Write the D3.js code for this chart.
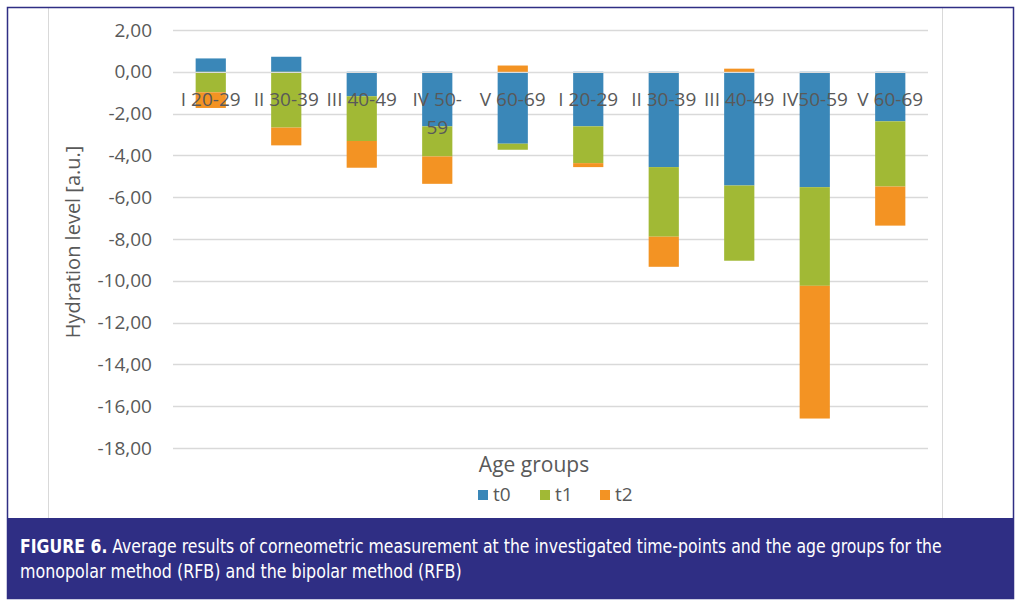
<!DOCTYPE html>
<html>
<head>
<meta charset="utf-8">
<script src="https://cdn.jsdelivr.net/npm/d3@7"></script>
<style>
  html, body { margin: 0; padding: 0; background: #ffffff; }
  svg { display: block; }
</style>
</head>
<body>
<svg id="chart" width="1024" height="610"></svg>
<script>
// ---- data ----
const categories = ["I 20-29","II 30-39","III 40-49","IV 50-59","V 60-69","I 20-29","II 30-39","III 40-49","IV50-59","V 60-69"];
const categoryLines = [["I 20-29"],["II 30-39"],["III 40-49"],["IV 50-","59"],["V 60-69"],["I 20-29"],["II 30-39"],["III 40-49"],["IV50-59"],["V 60-69"]];
const seriesNames = ["t0","t1","t2"];
const t0 = [0.64, 0.72, -1.17, -2.61, -3.44, -2.61, -4.56, -5.44, -5.52, -2.37];
const t1 = [-0.98, -2.67, -2.14, -1.44, -0.29, -1.76, -3.33, -3.60, -4.72, -3.12];
const t2 = [-0.75, -0.85, -1.28, -1.31, 0.30, -0.19, -1.44, 0.15, -6.35, -1.87];
const yTicks = [2, 0, -2, -4, -6, -8, -10, -12, -14, -16, -18];
const yTitle = "Hydration level [a.u.]";
const xTitle = "Age groups";
const captionBold = "FIGURE 6.";
const captionLine1 = " Average results of corneometric measurement at the investigated time-points and the age groups for the";
const captionLine2 = "monopolar method (RFB) and the bipolar method (RFB)";

const colors = {t0: "#3a87b8", t1: "#a1b935", t2: "#f39323"};
const navy = "#2f2e84";
const textGray = "#595959";
const font = "'Open Sans', 'Noto Sans', sans-serif";
const capFont = "'Liberation Sans Narrow', 'DejaVu Sans Condensed', 'DejaVu Sans', sans-serif";

const svg = d3.select("#chart");
svg.append("rect").attr("width", 1024).attr("height", 610).attr("fill", "#ffffff");

// chart area frame (light gray)
svg.append("line").attr("x1", 48.5).attr("x2", 48.5).attr("y1", 8).attr("y2", 518).attr("stroke", "#d9d9d9").attr("stroke-width", 1);
svg.append("line").attr("x1", 942.5).attr("x2", 942.5).attr("y1", 8).attr("y2", 518).attr("stroke", "#d9d9d9").attr("stroke-width", 1);

// scales
const rows = categories.map((c, i) => ({i, t0: t0[i], t1: t1[i], t2: t2[i]}));
const x = d3.scaleBand().domain(d3.range(categories.length)).range([173, 928]).paddingInner(0.6).paddingOuter(0.3);
const y = d3.scaleLinear().domain([-18, 2]).range([448, 30]);

// gridlines
svg.append("g").selectAll("line").data(yTicks).join("line")
  .attr("x1", 173).attr("x2", 928)
  .attr("y1", d => Math.round(y(d)) + 0.5).attr("y2", d => Math.round(y(d)) + 0.5)
  .attr("stroke", "#d9d9d9").attr("stroke-width", 1.3);

// y axis labels
const yAxis = d3.axisLeft(y).tickValues(yTicks).tickSize(0).tickPadding(0)
  .tickFormat(d => d3.format(".2f")(d).replace(".", ",").replace("−", "-"));
const yg = svg.append("g").attr("transform", "translate(152,0)").call(yAxis);
yg.select(".domain").remove();
yg.selectAll("text").attr("font-family", font).attr("font-size", 19).attr("fill", textGray);

// stacked bars
const stack = d3.stack().keys(seriesNames).offset(d3.stackOffsetDiverging);
const series = stack(rows);
svg.append("g").selectAll("g").data(series).join("g")
  .attr("fill", s => colors[s.key])
  .selectAll("rect").data(s => s).join("rect")
  .attr("x", d => x(d.data.i))
  .attr("width", x.bandwidth())
  .attr("y", d => y(Math.max(d[0], d[1])))
  .attr("height", d => Math.abs(y(d[0]) - y(d[1])));

// zero axis line over bars
svg.append("line").attr("x1", 173).attr("x2", 928)
  .attr("y1", Math.round(y(0)) + 0.5).attr("y2", Math.round(y(0)) + 0.5)
  .attr("stroke", "#dcdcdc").attr("stroke-width", 1.2);

// category labels
const xAxis = d3.axisBottom(x).tickSize(0).tickPadding(0).tickFormat(() => "");
const xg = svg.append("g").attr("transform", `translate(0,${y(0)})`).call(xAxis);
xg.select(".domain").remove();
xg.selectAll(".tick").each(function(d) {
  const t = d3.select(this).append("text")
    .attr("font-family", font).attr("font-size", 19).attr("fill", textGray)
    .attr("text-anchor", "middle").attr("y", 34);
  categoryLines[d].forEach((ln, k) => {
    t.append("tspan").attr("x", 0).attr("dy", k === 0 ? 0 : 28).text(ln);
  });
});

// axis titles
svg.append("text").attr("transform", `translate(80,242) rotate(-90)`)
  .attr("text-anchor", "middle").attr("font-family", font).attr("font-size", 20).attr("fill", textGray)
  .text(yTitle);
svg.append("text").attr("x", 534).attr("y", 472)
  .attr("text-anchor", "middle").attr("font-family", font).attr("font-size", 21).attr("fill", textGray)
  .text(xTitle);

// legend
const legendX = [478, 540, 600];
const lg = svg.append("g").selectAll("g").data(seriesNames).join("g")
  .attr("transform", (d, i) => `translate(${legendX[i]},490)`);
lg.append("rect").attr("width", 10).attr("height", 10).attr("fill", d => colors[d]);
lg.append("text").attr("x", 15).attr("y", 11).attr("font-family", font).attr("font-size", 19).attr("fill", textGray).text(d => d);

// caption banner
svg.append("rect").attr("x", 7).attr("y", 518).attr("width", 1007).attr("height", 81).attr("fill", navy);

function fitLine(yPos, targetWidth, parts) {
  const g = svg.append("g");
  const t = g.append("text").attr("x", 0).attr("y", 0)
    .attr("font-family", capFont).attr("font-size", 20).attr("fill", "#ffffff")
    .style("font-stretch", "condensed");
  parts.forEach(p => {
    const s = t.append("tspan").text(p.text);
    if (p.bold) s.attr("font-weight", "bold");
  });
  const w = t.node().getComputedTextLength();
  const sx = targetWidth / w;
  g.attr("transform", `translate(20,${yPos}) scale(${sx},1)`);
}
fitLine(553, 922, [{text: captionBold, bold: true}, {text: captionLine1}]);
fitLine(578, 442, [{text: captionLine2}]);

// outer frame
svg.append("rect").attr("x", 7.5).attr("y", 7.5).attr("width", 1006).attr("height", 591)
  .attr("fill", "none").attr("stroke", navy).attr("stroke-width", 1.5);
</script>
</body>
</html>
